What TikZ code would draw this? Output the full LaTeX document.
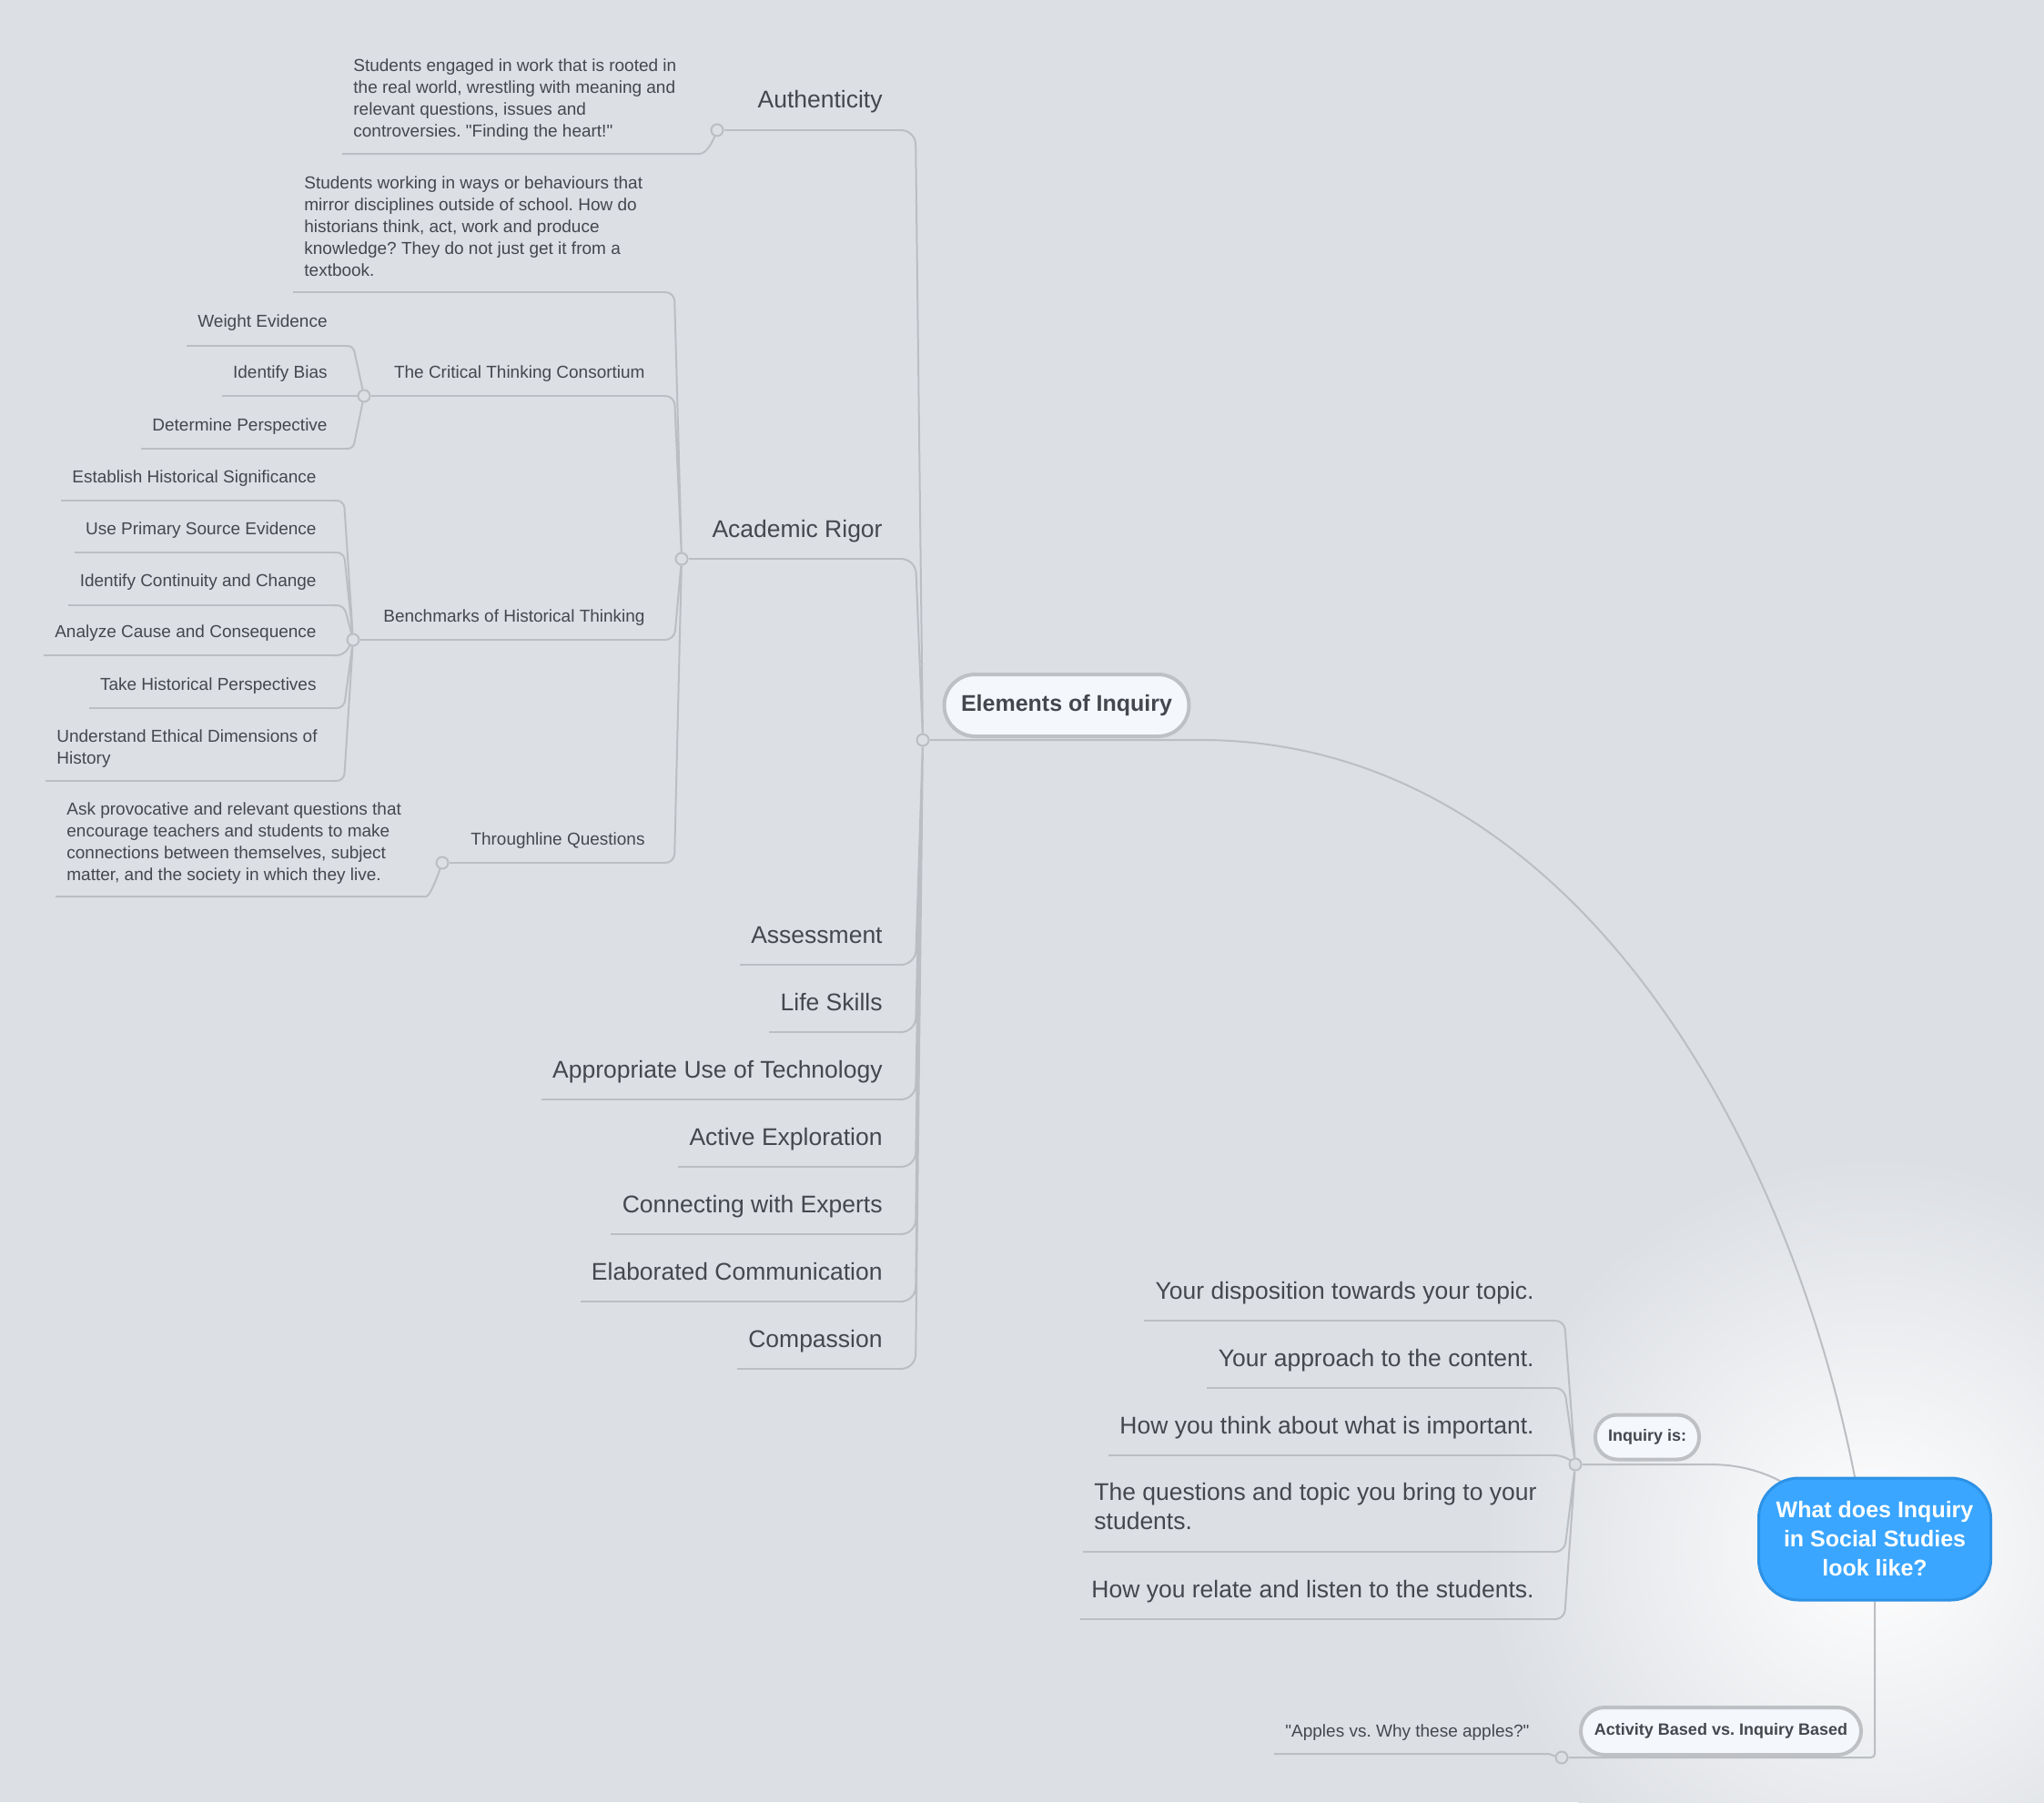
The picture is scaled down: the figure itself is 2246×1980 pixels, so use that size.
\documentclass[tikz,border=0pt]{standalone}
\usepackage{fontspec}
\usetikzlibrary{calc}
\newfontfamily\lsans{Liberation Sans}
\newcommand\bigtxt{\lsans\fontsize{13.25}{15.75}\selectfont}
\newcommand\smtxt{\lsans\fontsize{9.5}{12}\selectfont}
\newcommand\boldtxt{\lsans\bfseries\fontsize{12.5}{16}\selectfont}
\newcommand\boldsm{\lsans\bfseries\fontsize{9}{11}\selectfont}
\definecolor{bg}{RGB}{220,223,228}
\definecolor{lineC}{RGB}{187,190,194}
\definecolor{txtC}{RGB}{68,72,78}
\definecolor{pillC}{RGB}{244,248,253}
\definecolor{pillB}{RGB}{190,192,196}
\definecolor{rootC}{RGB}{58,166,255}
\definecolor{rootB}{RGB}{44,146,230}
\pgfdeclarelayer{bgfill}
\pgfdeclarelayer{edges}
\pgfsetlayers{bgfill,edges,main}
\frenchspacing
\begin{document}
\begin{tikzpicture}[x=0.5pt,y=0.5pt,yscale=-1,
  link/.style={draw=lineC, line width=1pt, rounded corners=5pt},
  fork/.style={to path={-- ($(\tikztostart |- \tikztotarget)+(#1,0)$) -- (\tikztotarget)}},
  dip/.style={to path={.. controls ($(\tikztostart)+(#1)$) and ($(\tikztotarget)+(14,0)$) .. (\tikztotarget)}},
  junc/.style={circle, draw=lineC, line width=1pt, fill=bg, minimum size=6.5pt, inner sep=0pt},
  big/.style={font=\bigtxt, text=txtC, inner xsep=6pt, inner ysep=0pt, anchor=base east},
  sm/.style={font=\smtxt, text=txtC, inner xsep=6pt, inner ysep=0pt, anchor=base east},
  note/.style={font=\smtxt, text=txtC, align=left, inner xsep=6pt, inner ysep=0pt, anchor=north west},
  pill/.style={draw=pillB, line width=2pt, fill=pillC, text=txtC, rounded corners=#1, inner sep=0pt}]
\useasboundingbox (0,0) rectangle (2246,1980);
\begin{pgfonlayer}{bgfill}
\fill[bg] (0,0) rectangle (2246,1980);
\begin{scope}
\clip (0,0) rectangle (2246,1980);
\shade[inner color=white, outer color=bg] (2060,1700) circle (430);
\end{scope}
\end{pgfonlayer}

\node[draw=rootB, line width=1.5pt, fill=rootC, rounded corners=22pt, minimum width=127.5pt, minimum height=67pt, text=white, font=\boldtxt, align=center] (root) at (2060,1691) {What does Inquiry\\in Social Studies\\look like?};
\node[pill=17pt, minimum width=134.5pt, minimum height=34pt, font=\boldtxt] (elem) at (1172,775) {Elements of Inquiry};
\node[pill=12pt, minimum width=57pt, minimum height=24.5pt, font=\boldsm] (inq) at (1810,1579) {Inquiry is:};
\node[pill=13pt, minimum width=154pt, minimum height=26pt, font=\boldsm] (act) at (1891,1902) {Activity Based vs. Inquiry Based};

\node[junc] (j0) at (1014,813) {};
\node[junc] (jAuth) at (788,143) {};
\node[junc] (jRig) at (749,614) {};
\node[junc] (jCtc) at (400,435) {};
\node[junc] (jBen) at (388,703) {};
\node[junc] (jThr) at (486,948) {};
\node[junc] (jInq) at (1731,1609) {};
\node[junc] (jAct) at (1716,1931) {};

\node[big] (auth) at (982,119) {Authenticity};
\node[big] (rigor) at (982,590) {Academic Rigor};
\node[big] (assess) at (982,1036) {Assessment};
\node[big] (life) at (982,1110) {Life Skills};
\node[big] (tech) at (982,1184) {Appropriate Use of Technology};
\node[big] (explore) at (982,1258) {Active Exploration};
\node[big] (experts) at (982,1332) {Connecting with Experts};
\node[big] (commun) at (982,1406) {Elaborated Communication};
\node[big] (compass) at (982,1480) {Compassion};

\node[note] (authD) at (376,64) {Students engaged in work that is rooted in\\the real world, wrestling with meaning and\\relevant questions, issues and\\controversies. "Finding the heart!"};
\node[note] (rigD) at (322,193) {Students working in ways or behaviours that\\mirror disciplines outside of school. How do\\historians think, act, work and produce\\knowledge? They do not just get it from a\\textbook.};
\node[sm] (ctc) at (721,415) {The Critical Thinking Consortium};
\node[sm] (bench) at (721,683) {Benchmarks of Historical Thinking};
\node[sm] (thr) at (721,928) {Throughline Questions};
\node[note] (thrD) at (61,881) {Ask provocative and relevant questions that\\encourage teachers and students to make\\connections between themselves, subject\\matter, and the society in which they live.};

\node[sm] (weight) at (372,359) {Weight Evidence};
\node[sm] (bias) at (372,415) {Identify Bias};
\node[sm] (persp) at (372,473) {Determine Perspective};

\node[sm] (b1) at (360,530) {Establish Historical Significance};
\node[sm] (b2) at (360,587) {Use Primary Source Evidence};
\node[sm] (b3) at (360,644) {Identify Continuity and Change};
\node[sm] (b4) at (360,700) {Analyze Cause and Consequence};
\node[sm] (b5) at (360,758) {Take Historical Perspectives};
\node[note] (b6) at (50,801) {Understand Ethical Dimensions of\\History};

\node[big] (q1) at (1698,1427) {Your disposition towards your topic.};
\node[big] (q2) at (1698,1501) {Your approach to the content.};
\node[big] (q3) at (1698,1575) {How you think about what is important.};
\node[note, font=\bigtxt] (q4) at (1190,1629) {The questions and topic you bring to your\\students.};
\node[big] (q5) at (1698,1755) {How you relate and listen to the students.};

\node[sm, anchor=base west] (apples) at (1400,1908) {"Apples vs. Why these apples?"};

\coordinate (cRootE) at (2048,1680);
\coordinate (cRootI) at (1990,1650);
\coordinate (uAuth) at (988,143);
\coordinate (uRig) at (988,614);
\coordinate (uAss) at (988,1060);
\coordinate (uLife) at (988,1134);
\coordinate (uTech) at (988,1208);
\coordinate (uExp) at (988,1282);
\coordinate (uExpt) at (988,1356);
\coordinate (uCom) at (988,1430);
\coordinate (uComp) at (988,1504);
\coordinate (uAuthD) at (759,169);
\coordinate (uRigD) at (730,321);
\coordinate (uCtc) at (730,435);
\coordinate (uBen) at (730,703);
\coordinate (uThr) at (730,948);
\coordinate (uThrD) at (458,985);
\coordinate (uW) at (380,380);
\coordinate (uP) at (380,493);
\coordinate (uB1) at (366,550);
\coordinate (uB2) at (366,607);
\coordinate (uB3) at (366,665);
\coordinate (uB4) at (366,720);
\coordinate (uB5) at (366,778);
\coordinate (uB6) at (366,858);
\coordinate (uQ1) at (1705,1451);
\coordinate (uQ2) at (1705,1525);
\coordinate (uQ3) at (1705,1599);
\coordinate (uQ4) at (1705,1705);
\coordinate (uQ5) at (1705,1779);
\coordinate (uApp) at (1690,1927);

\begin{pgfonlayer}{edges}
\draw[link] (j0) -- (j0 -| elem.east) .. controls (1750,813) and (1990,1300) .. (cRootE);
\draw[link] (jInq) -- (jInq -| inq.east) .. controls (1925,1609) and (1960,1625) .. (cRootI);
\draw[link, rounded corners=2pt] (root) |- (jAct);

\draw[link, rounded corners=8pt] (j0) to[fork=-8] (uAuth) (j0) to[fork=-8] (uRig)
  (j0) to[fork=-8] (uAss) (j0) to[fork=-8] (uLife) (j0) to[fork=-8] (uTech)
  (j0) to[fork=-8] (uExp) (j0) to[fork=-8] (uExpt) (j0) to[fork=-8] (uCom)
  (j0) to[fork=-8] (uComp);
\draw[link] (jAuth) -- (uAuth);
\draw[link] (jRig) -- (uRig);
\draw[link] (uAss) -- (uAss -| assess.west);
\draw[link] (uLife) -- (uLife -| life.west);
\draw[link] (uTech) -- (uTech -| tech.west);
\draw[link] (uExp) -- (uExp -| explore.west);
\draw[link] (uExpt) -- (uExpt -| experts.west);
\draw[link] (uCom) -- (uCom -| commun.west);
\draw[link] (uComp) -- (uComp -| compass.west);

\draw[link] (jAuth) to[dip={-8,20}] (uAuthD) -- (uAuthD -| authD.west);

\draw[link] (jRig) to[fork=-8] (uRigD) (jRig) to[fork=-8] (uCtc)
  (jRig) to[fork=-8] (uBen) (jRig) to[fork=-8] (uThr);
\draw[link] (uRigD) -- (uRigD -| rigD.west);
\draw[link] (jCtc) -- (uCtc);
\draw[link] (jBen) -- (uBen);
\draw[link] (jThr) -- (uThr);
\draw[link] (jThr) to[dip={-8,22}] (uThrD) -- (uThrD -| thrD.west);

\draw[link, rounded corners=3pt] (jCtc) to[fork=-12] (uW) (jCtc) to[fork=-12] (uP);
\draw[link] (uW) -- (uW -| weight.west);
\draw[link] (jCtc) -- (jCtc -| bias.west);
\draw[link] (uP) -- (uP -| persp.west);

\draw[link, rounded corners=4pt] (jBen) to[fork=-10] (uB1) (jBen) to[fork=-10] (uB2)
  (jBen) to[fork=-10] (uB3) (jBen) to[fork=-10] (uB4) (jBen) to[fork=-10] (uB5)
  (jBen) to[fork=-10] (uB6);
\draw[link] (uB1) -- (uB1 -| b1.west);
\draw[link] (uB2) -- (uB2 -| b2.west);
\draw[link] (uB3) -- (uB3 -| b3.west);
\draw[link] (uB4) -- (uB4 -| b4.west);
\draw[link] (uB5) -- (uB5 -| b5.west);
\draw[link] (uB6) -- (uB6 -| b6.west);

\draw[link] (jInq) to[fork=-12] (uQ1) (jInq) to[fork=-12] (uQ2) (jInq) to[fork=-12] (uQ3)
  (jInq) to[fork=-12] (uQ4) (jInq) to[fork=-12] (uQ5);
\draw[link] (uQ1) -- (uQ1 -| q1.west);
\draw[link] (uQ2) -- (uQ2 -| q2.west);
\draw[link] (uQ3) -- (uQ3 -| q3.west);
\draw[link] (uQ4) -- (uQ4 -| q4.west);
\draw[link] (uQ5) -- (uQ5 -| q5.west);

\draw[link] (jAct) to[dip={-10,-2}] (uApp) -- (uApp -| apples.west);
\end{pgfonlayer}
\end{tikzpicture}
\end{document}
